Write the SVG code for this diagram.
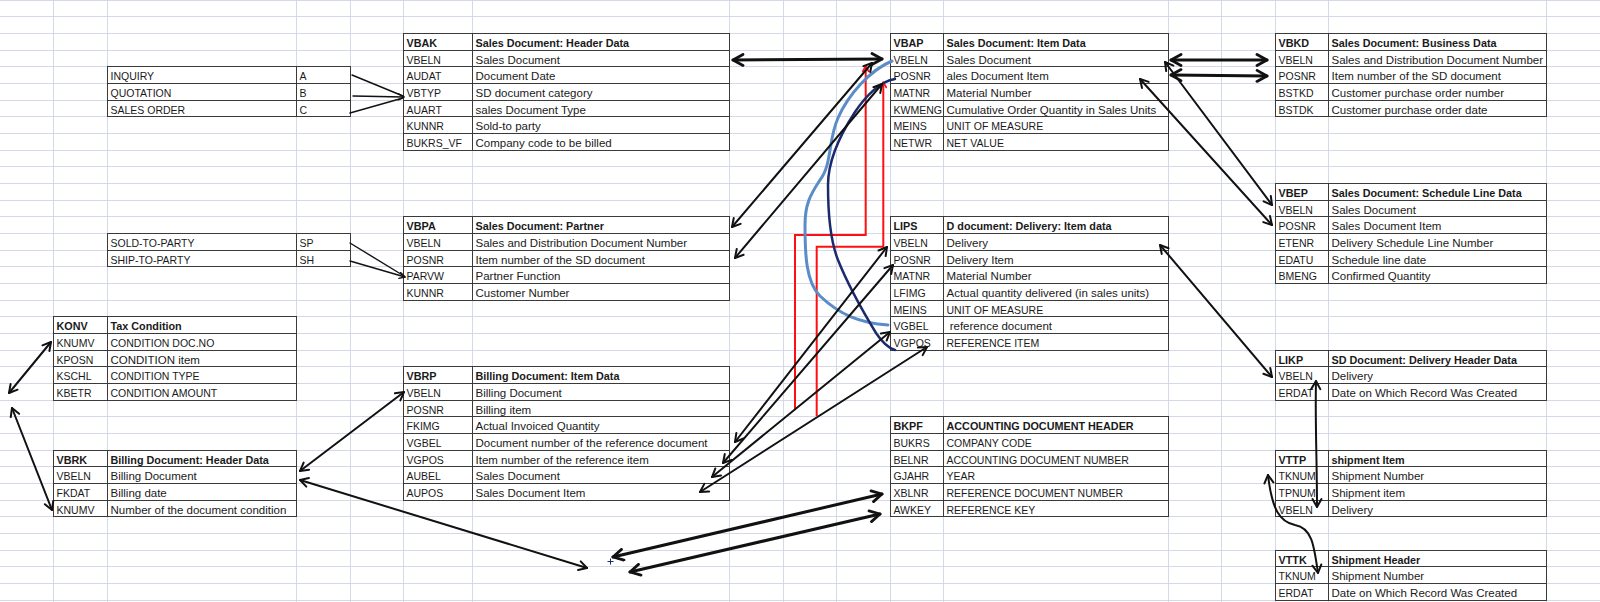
<svg xmlns="http://www.w3.org/2000/svg" width="1600" height="602" viewBox="0 0 1600 602">
<style>
.grid{stroke:#d3d9e6;stroke-width:1;fill:none}
.tb{fill:#fff;stroke:#3a3a3a;stroke-width:1}
.tl{fill:none;stroke:#3a3a3a;stroke-width:1}
text{font-family:"Liberation Sans",Arial,sans-serif;fill:#1a1a1a}
.c{font-size:10.5px}
.d{font-size:11.5px}
.h{font-size:10.8px;font-weight:bold}
.k{fill:none;stroke:#111;stroke-width:2;stroke-linecap:round}
.kt{fill:none;stroke:#111;stroke-width:3;stroke-linecap:round}
.ks{fill:none;stroke:#111;stroke-width:1.4;stroke-linecap:round}
.red{fill:none;stroke:#ff1010;stroke-width:2}
</style>
<defs>
<marker id="ah" viewBox="0 0 12 12" refX="10" refY="6" markerWidth="12" markerHeight="12" markerUnits="userSpaceOnUse" orient="auto-start-reverse"><path d="M2,1.5 L10,6 L2,10.5" fill="none" stroke="#111" stroke-width="2" stroke-linecap="round" stroke-linejoin="round"/></marker>
<marker id="aht" viewBox="0 0 14 14" refX="12" refY="7" markerWidth="14" markerHeight="14" markerUnits="userSpaceOnUse" orient="auto-start-reverse"><path d="M2,1.5 L12,7 L2,12.5" fill="none" stroke="#111" stroke-width="2.8" stroke-linecap="round" stroke-linejoin="round"/></marker>
<marker id="ahs" viewBox="0 0 8 8" refX="7" refY="4" markerWidth="8" markerHeight="8" markerUnits="userSpaceOnUse" orient="auto-start-reverse"><path d="M1.5,1 L7,4 L1.5,7" fill="none" stroke="#111" stroke-width="1.4" stroke-linecap="round" stroke-linejoin="round"/></marker>
<marker id="ahr" viewBox="0 0 8 8" refX="7" refY="4" markerWidth="8" markerHeight="8" markerUnits="userSpaceOnUse" orient="auto-start-reverse"><path d="M1.5,1 L7,4 L1.5,7" fill="none" stroke="#ff1010" stroke-width="1.6" stroke-linecap="round" stroke-linejoin="round"/></marker>
</defs>
<rect x="0" y="0" width="1600" height="602" fill="#fff"/>
<path class="grid" d="M0,0.5H1600M0,16.5H1600M0,33.5H1600M0,50.5H1600M0,66.5H1600M0,83.5H1600M0,100.5H1600M0,116.5H1600M0,133.5H1600M0,150.5H1600M0,166.5H1600M0,183.5H1600M0,200.5H1600M0,216.5H1600M0,233.5H1600M0,250.5H1600M0,266.5H1600M0,283.5H1600M0,300.5H1600M0,316.5H1600M0,333.5H1600M0,350.5H1600M0,366.5H1600M0,383.5H1600M0,400.5H1600M0,416.5H1600M0,433.5H1600M0,450.5H1600M0,466.5H1600M0,483.5H1600M0,500.5H1600M0,516.5H1600M0,533.5H1600M0,550.5H1600M0,566.5H1600M0,583.5H1600M0,600.5H1600M53.5,0V602M107.5,0V602M296.5,0V602M350.5,0V602M403.5,0V602M472.5,0V602M729.5,0V602M783.5,0V602M836.5,0V602M890.5,0V602M943.5,0V602M1168.5,0V602M1221.5,0V602M1275.5,0V602M1328.5,0V602M1546.5,0V602"/>

<g id="doc-categories">
<rect class="tb" x="107.5" y="66.5" width="243" height="50"/>
<path class="tl" d="M107.5,83.5H350.5M107.5,100.5H350.5M296.5,66.5V116.5"/>
<text class="c" x="110.5" y="79.5">INQUIRY</text><text class="c" x="299.5" y="79.5">A</text>
<text class="c" x="110.5" y="96.5">QUOTATION</text><text class="c" x="299.5" y="96.5">B</text>
<text class="c" x="110.5" y="113.5">SALES ORDER</text><text class="c" x="299.5" y="113.5">C</text>
</g>

<g id="VBAK">
<rect class="tb" x="403.5" y="33.5" width="326" height="117"/>
<path class="tl" d="M403.5,50.5H729.5M403.5,66.5H729.5M403.5,83.5H729.5M403.5,100.5H729.5M403.5,116.5H729.5M403.5,133.5H729.5M472.5,33.5V150.5"/>
<text class="h" x="406.5" y="46.5">VBAK</text><text class="h" x="475.5" y="46.5">Sales Document: Header Data</text>
<text class="c" x="406.5" y="63.5">VBELN</text><text class="d" x="475.5" y="63.5">Sales Document</text>
<text class="c" x="406.5" y="79.5">AUDAT</text><text class="d" x="475.5" y="79.5">Document Date</text>
<text class="c" x="406.5" y="96.5">VBTYP</text><text class="d" x="475.5" y="96.5">SD document category</text>
<text class="c" x="406.5" y="113.5">AUART</text><text class="d" x="475.5" y="113.5">sales Document Type</text>
<text class="c" x="406.5" y="129.5">KUNNR</text><text class="d" x="475.5" y="129.5">Sold-to party</text>
<text class="c" x="406.5" y="146.5">BUKRS_VF</text><text class="d" x="475.5" y="146.5">Company code to be billed</text>
</g>

<g id="VBAP">
<rect class="tb" x="890.5" y="33.5" width="278" height="117"/>
<path class="tl" d="M890.5,50.5H1168.5M890.5,66.5H1168.5M890.5,83.5H1168.5M890.5,100.5H1168.5M890.5,116.5H1168.5M890.5,133.5H1168.5M943.5,33.5V150.5"/>
<text class="h" x="893.5" y="46.5">VBAP</text><text class="h" x="946.5" y="46.5">Sales Document: Item Data</text>
<text class="c" x="893.5" y="63.5">VBELN</text><text class="d" x="946.5" y="63.5">Sales Document</text>
<text class="c" x="893.5" y="79.5">POSNR</text><text class="d" x="946.5" y="79.5">ales Document Item</text>
<text class="c" x="893.5" y="96.5">MATNR</text><text class="d" x="946.5" y="96.5">Material Number</text>
<text class="c" x="893.5" y="113.5">KWMENG</text><text class="d" x="946.5" y="113.5">Cumulative Order Quantity in Sales Units</text>
<text class="c" x="893.5" y="129.5">MEINS</text><text class="c" x="946.5" y="129.5">UNIT OF MEASURE</text>
<text class="c" x="893.5" y="146.5">NETWR</text><text class="c" x="946.5" y="146.5">NET VALUE</text>
</g>

<g id="VBKD">
<rect class="tb" x="1275.5" y="33.5" width="271" height="83"/>
<path class="tl" d="M1275.5,50.5H1546.5M1275.5,66.5H1546.5M1275.5,83.5H1546.5M1275.5,100.5H1546.5M1328.5,33.5V116.5"/>
<text class="h" x="1278.5" y="46.5">VBKD</text><text class="h" x="1331.5" y="46.5">Sales Document: Business Data</text>
<text class="c" x="1278.5" y="63.5">VBELN</text><text class="d" x="1331.5" y="63.5">Sales and Distribution Document Number</text>
<text class="c" x="1278.5" y="79.5">POSNR</text><text class="d" x="1331.5" y="79.5">Item number of the SD document</text>
<text class="c" x="1278.5" y="96.5">BSTKD</text><text class="d" x="1331.5" y="96.5">Customer purchase order number</text>
<text class="c" x="1278.5" y="113.5">BSTDK</text><text class="d" x="1331.5" y="113.5">Customer purchase order date</text>
</g>

<g id="VBEP">
<rect class="tb" x="1275.5" y="183.5" width="271" height="100"/>
<path class="tl" d="M1275.5,200.5H1546.5M1275.5,216.5H1546.5M1275.5,233.5H1546.5M1275.5,250.5H1546.5M1275.5,266.5H1546.5M1328.5,183.5V283.5"/>
<text class="h" x="1278.5" y="196.5">VBEP</text><text class="h" x="1331.5" y="196.5">Sales Document: Schedule Line Data</text>
<text class="c" x="1278.5" y="213.5">VBELN</text><text class="d" x="1331.5" y="213.5">Sales Document</text>
<text class="c" x="1278.5" y="229.5">POSNR</text><text class="d" x="1331.5" y="229.5">Sales Document Item</text>
<text class="c" x="1278.5" y="246.5">ETENR</text><text class="d" x="1331.5" y="246.5">Delivery Schedule Line Number</text>
<text class="c" x="1278.5" y="263.5">EDATU</text><text class="d" x="1331.5" y="263.5">Schedule line date</text>
<text class="c" x="1278.5" y="279.5">BMENG</text><text class="d" x="1331.5" y="279.5">Confirmed Quantity</text>
</g>

<g id="partner-functions">
<rect class="tb" x="107.5" y="233.5" width="243" height="33"/>
<path class="tl" d="M107.5,250.5H350.5M296.5,233.5V266.5"/>
<text class="c" x="110.5" y="246.5">SOLD-TO-PARTY</text><text class="c" x="299.5" y="246.5">SP</text>
<text class="c" x="110.5" y="263.5">SHIP-TO-PARTY</text><text class="c" x="299.5" y="263.5">SH</text>
</g>

<g id="VBPA">
<rect class="tb" x="403.5" y="216.5" width="326" height="84"/>
<path class="tl" d="M403.5,233.5H729.5M403.5,250.5H729.5M403.5,266.5H729.5M403.5,283.5H729.5M472.5,216.5V300.5"/>
<text class="h" x="406.5" y="229.5">VBPA</text><text class="h" x="475.5" y="229.5">Sales Document: Partner</text>
<text class="c" x="406.5" y="246.5">VBELN</text><text class="d" x="475.5" y="246.5">Sales and Distribution Document Number</text>
<text class="c" x="406.5" y="263.5">POSNR</text><text class="d" x="475.5" y="263.5">Item number of the SD document</text>
<text class="c" x="406.5" y="279.5">PARVW</text><text class="d" x="475.5" y="279.5">Partner Function</text>
<text class="c" x="406.5" y="296.5">KUNNR</text><text class="d" x="475.5" y="296.5">Customer Number</text>
</g>

<g id="LIPS">
<rect class="tb" x="890.5" y="216.5" width="278" height="134"/>
<path class="tl" d="M890.5,233.5H1168.5M890.5,250.5H1168.5M890.5,266.5H1168.5M890.5,283.5H1168.5M890.5,300.5H1168.5M890.5,316.5H1168.5M890.5,333.5H1168.5M943.5,216.5V350.5"/>
<text class="h" x="893.5" y="229.5">LIPS</text><text class="h" x="946.5" y="229.5">D document: Delivery: Item data</text>
<text class="c" x="893.5" y="246.5">VBELN</text><text class="d" x="946.5" y="246.5">Delivery</text>
<text class="c" x="893.5" y="263.5">POSNR</text><text class="d" x="946.5" y="263.5">Delivery Item</text>
<text class="c" x="893.5" y="279.5">MATNR</text><text class="d" x="946.5" y="279.5">Material Number</text>
<text class="c" x="893.5" y="296.5">LFIMG</text><text class="d" x="946.5" y="296.5">Actual quantity delivered (in sales units)</text>
<text class="c" x="893.5" y="313.5">MEINS</text><text class="c" x="946.5" y="313.5">UNIT OF MEASURE</text>
<text class="c" x="893.5" y="329.5">VGBEL</text><text class="d" x="946.5" y="329.5" xml:space="preserve"> reference document</text>
<text class="c" x="893.5" y="346.5">VGPOS</text><text class="c" x="946.5" y="346.5">REFERENCE ITEM</text>
</g>

<g id="KONV">
<rect class="tb" x="53.5" y="316.5" width="243" height="84"/>
<path class="tl" d="M53.5,333.5H296.5M53.5,350.5H296.5M53.5,366.5H296.5M53.5,383.5H296.5M107.5,316.5V400.5"/>
<text class="h" x="56.5" y="329.5">KONV</text><text class="h" x="110.5" y="329.5">Tax Condition</text>
<text class="c" x="56.5" y="346.5">KNUMV</text><text class="c" x="110.5" y="346.5">CONDITION DOC.NO</text>
<text class="c" x="56.5" y="363.5">KPOSN</text><text class="d" x="110.5" y="363.5">CONDITION item</text>
<text class="c" x="56.5" y="379.5">KSCHL</text><text class="c" x="110.5" y="379.5">CONDITION TYPE</text>
<text class="c" x="56.5" y="396.5">KBETR</text><text class="c" x="110.5" y="396.5">CONDITION AMOUNT</text>
</g>

<g id="VBRP">
<rect class="tb" x="403.5" y="366.5" width="326" height="134"/>
<path class="tl" d="M403.5,383.5H729.5M403.5,400.5H729.5M403.5,416.5H729.5M403.5,433.5H729.5M403.5,450.5H729.5M403.5,466.5H729.5M403.5,483.5H729.5M472.5,366.5V500.5"/>
<text class="h" x="406.5" y="379.5">VBRP</text><text class="h" x="475.5" y="379.5">Billing Document: Item Data</text>
<text class="c" x="406.5" y="396.5">VBELN</text><text class="d" x="475.5" y="396.5">Billing Document</text>
<text class="c" x="406.5" y="413.5">POSNR</text><text class="d" x="475.5" y="413.5">Billing item</text>
<text class="c" x="406.5" y="429.5">FKIMG</text><text class="d" x="475.5" y="429.5">Actual Invoiced Quantity</text>
<text class="c" x="406.5" y="446.5">VGBEL</text><text class="d" x="475.5" y="446.5">Document number of the reference document</text>
<text class="c" x="406.5" y="463.5">VGPOS</text><text class="d" x="475.5" y="463.5">Item number of the reference item</text>
<text class="c" x="406.5" y="479.5">AUBEL</text><text class="d" x="475.5" y="479.5">Sales Document</text>
<text class="c" x="406.5" y="496.5">AUPOS</text><text class="d" x="475.5" y="496.5">Sales Document Item</text>
</g>

<g id="VBRK">
<rect class="tb" x="53.5" y="450.5" width="243" height="66"/>
<path class="tl" d="M53.5,466.5H296.5M53.5,483.5H296.5M53.5,500.5H296.5M107.5,450.5V516.5"/>
<text class="h" x="56.5" y="463.5">VBRK</text><text class="h" x="110.5" y="463.5">Billing Document: Header Data</text>
<text class="c" x="56.5" y="479.5">VBELN</text><text class="d" x="110.5" y="479.5">Billing Document</text>
<text class="c" x="56.5" y="496.5">FKDAT</text><text class="d" x="110.5" y="496.5">Billing date</text>
<text class="c" x="56.5" y="513.5">KNUMV</text><text class="d" x="110.5" y="513.5">Number of the document condition</text>
</g>

<g id="BKPF">
<rect class="tb" x="890.5" y="416.5" width="278" height="100"/>
<path class="tl" d="M890.5,433.5H1168.5M890.5,450.5H1168.5M890.5,466.5H1168.5M890.5,483.5H1168.5M890.5,500.5H1168.5M943.5,416.5V516.5"/>
<text class="h" x="893.5" y="429.5">BKPF</text><text class="h" x="946.5" y="429.5">ACCOUNTING DOCUMENT HEADER</text>
<text class="c" x="893.5" y="446.5">BUKRS</text><text class="c" x="946.5" y="446.5">COMPANY CODE</text>
<text class="c" x="893.5" y="463.5">BELNR</text><text class="c" x="946.5" y="463.5">ACCOUNTING DOCUMENT NUMBER</text>
<text class="c" x="893.5" y="479.5">GJAHR</text><text class="c" x="946.5" y="479.5">YEAR</text>
<text class="c" x="893.5" y="496.5">XBLNR</text><text class="c" x="946.5" y="496.5">REFERENCE DOCUMENT NUMBER</text>
<text class="c" x="893.5" y="513.5">AWKEY</text><text class="c" x="946.5" y="513.5">REFERENCE KEY</text>
</g>

<g id="LIKP">
<rect class="tb" x="1275.5" y="350.5" width="271" height="50"/>
<path class="tl" d="M1275.5,366.5H1546.5M1275.5,383.5H1546.5M1328.5,350.5V400.5"/>
<text class="h" x="1278.5" y="363.5">LIKP</text><text class="h" x="1331.5" y="363.5">SD Document: Delivery Header Data</text>
<text class="c" x="1278.5" y="379.5">VBELN</text><text class="d" x="1331.5" y="379.5">Delivery</text>
<text class="c" x="1278.5" y="396.5">ERDAT</text><text class="d" x="1331.5" y="396.5">Date on Which Record Was Created</text>
</g>

<g id="VTTP">
<rect class="tb" x="1275.5" y="450.5" width="271" height="66"/>
<path class="tl" d="M1275.5,466.5H1546.5M1275.5,483.5H1546.5M1275.5,500.5H1546.5M1328.5,450.5V516.5"/>
<text class="h" x="1278.5" y="463.5">VTTP</text><text class="h" x="1331.5" y="463.5">shipment Item</text>
<text class="c" x="1278.5" y="479.5">TKNUM</text><text class="d" x="1331.5" y="479.5">Shipment Number</text>
<text class="c" x="1278.5" y="496.5">TPNUM</text><text class="d" x="1331.5" y="496.5">Shipment item</text>
<text class="c" x="1278.5" y="513.5">VBELN</text><text class="d" x="1331.5" y="513.5">Delivery</text>
</g>

<g id="VTTK">
<rect class="tb" x="1275.5" y="550.5" width="271" height="50"/>
<path class="tl" d="M1275.5,566.5H1546.5M1275.5,583.5H1546.5M1328.5,550.5V600.5"/>
<text class="h" x="1278.5" y="563.5">VTTK</text><text class="h" x="1331.5" y="563.5">Shipment Header</text>
<text class="c" x="1278.5" y="579.5">TKNUM</text><text class="d" x="1331.5" y="579.5">Shipment Number</text>
<text class="c" x="1278.5" y="596.5">ERDAT</text><text class="d" x="1331.5" y="596.5">Date on Which Record Was Created</text>
</g>

<g id="connectors">
<path class="ks" d="M352,75 L403,96"/>
<path class="ks" d="M353,96 L404,97" marker-end="url(#ahs)"/>
<path class="ks" d="M350,113 L403,98"/>
<path class="ks" d="M350,243 L404,276"/>
<path class="ks" d="M350,261 L405,277" marker-end="url(#ahs)"/>
<path class="red" d="M865.7,66 V235 H795 V410" marker-start="url(#ahr)"/>
<path class="red" d="M883.3,82 V246.7 H816.7 V416" marker-start="url(#ahr)"/>
<path d="M892,61 C870,70 848,95 838,118 C828,140 832,165 820,180 C810,195 805,205 805,225 C805,255 806,282 820,296 C840,315 860,323 888,325" fill="none" stroke="#5b8cc8" stroke-width="3" stroke-linecap="round"/>
<path d="M895,79 C880,81 865,97 855,112 C840,135 828,160 828,185 C828,215 830,240 838,260 C848,285 862,310 876,333 C882,342 888,348 895,350" fill="none" stroke="#1b2a6e" stroke-width="2.5" stroke-linecap="round"/>
<path class="kt" d="M733,60 L882,59" marker-start="url(#aht)" marker-end="url(#aht)"/>
<path class="kt" d="M1171,60 L1267,60" marker-start="url(#aht)" marker-end="url(#aht)"/>
<path class="kt" d="M1171,75 L1267,76" marker-start="url(#aht)" marker-end="url(#aht)"/>
<path class="k" d="M1165,62 L1272,205" marker-start="url(#ah)" marker-end="url(#ah)"/>
<path class="k" d="M1140,79 L1272,225" marker-start="url(#ah)" marker-end="url(#ah)"/>
<path class="k" d="M732,227 L872,63" marker-start="url(#ah)" marker-end="url(#ah)"/>
<path class="k" d="M735,258 L882,84" marker-start="url(#ah)" marker-end="url(#ah)"/>
<path class="k" d="M1160,245 L1272,377" marker-start="url(#ah)" marker-end="url(#ah)"/>
<path class="k" d="M735,442 L887,247" marker-start="url(#ah)" marker-end="url(#ah)"/>
<path class="k" d="M723,463 L893,265" marker-start="url(#ah)" marker-end="url(#ah)"/>
<path class="k" d="M712,477 L890,332" marker-start="url(#ah)" marker-end="url(#ah)"/>
<path class="k" d="M700,492 L927,347" marker-start="url(#ah)" marker-end="url(#ah)"/>
<path class="k" d="M300,471 L404,392" marker-start="url(#ah)" marker-end="url(#ah)"/>
<path class="k" d="M300,480 L587,568" marker-start="url(#ah)" marker-end="url(#ah)"/>
<path class="kt" d="M613,557 L882,494" marker-start="url(#aht)" marker-end="url(#aht)"/>
<path class="kt" d="M630,572 L880,514" marker-start="url(#aht)" marker-end="url(#aht)"/>
<path class="k" d="M51,342 L9,393" marker-start="url(#ah)" marker-end="url(#ah)"/>
<path class="k" d="M12,408 L52,510" marker-start="url(#ah)" marker-end="url(#ah)"/>
<path class="k" d="M1316,381 C1315,420 1317,460 1317,507" stroke-width="2.5" marker-start="url(#ah)" marker-end="url(#ah)"/>
<path class="k" d="M1268,475 C1272,510 1280,522 1295,525 C1312,528 1314,545 1318,573" marker-start="url(#ah)" marker-end="url(#ah)"/>
<path d="M607.5,561.5 H613.5 M610.5,558.5 V564.5" stroke="#1b2a6e" stroke-width="1" fill="none"/>
</g>
</svg>
